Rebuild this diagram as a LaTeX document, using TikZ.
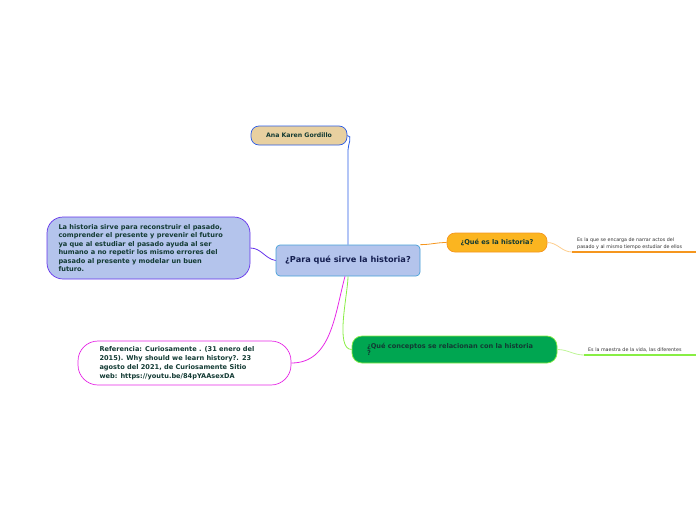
\documentclass[tikz,border=0pt]{standalone}
\usepackage{fontspec}
\setmainfont{DejaVu Sans}
\begin{document}
\begin{tikzpicture}[x=1pt,y=-1pt,
 box/.style={draw,line width=0.7pt,rounded corners=#1,inner sep=0pt,font=\bfseries},
 conn/.style={line width=0.8pt}]
\useasboundingbox (0,0) rectangle (696,520);
\clip (0,0) rectangle (696,520);
\definecolor{cblue}{HTML}{B4C4EC}
\definecolor{dtext}{HTML}{123A33}
\definecolor{corange}{HTML}{F5961E}
\definecolor{cgreen}{HTML}{88EE44}
% nodes
\node[box=8pt,fill={rgb,255:red,232;green,208;blue,160},draw={rgb,255:red,40;green,90;blue,230},minimum width=96pt,minimum height=19pt,font=\bfseries\fontsize{6.2}{7}\selectfont,text=dtext] (ana) at (299,135.5) {Ana Karen Gordillo};
\node[box=4pt,fill=cblue,draw={rgb,255:red,70;green,160;blue,216},minimum width=144pt,minimum height=31pt,font=\bfseries\fontsize{8.2}{9}\selectfont,text={rgb,255:red,20;green,30;blue,80}] (c) at (348,260.5) {¿Para qué sirve la historia?};
\node[box=16pt,fill=cblue,draw={rgb,255:red,100;green,50;blue,235},minimum width=203pt,minimum height=62pt,font=\bfseries\fontsize{6.6}{8.4}\selectfont,text=dtext,align=left] (l) at (148.5,248) {\parbox{180pt}{La historia sirve para reconstruir el pasado,\\comprender el presente y prevenir el futuro\\ya que al estudiar el pasado ayuda al ser\\humano a no repetir los mismo errores del\\pasado al presente y modelar un buen\\futuro.}};
\node[box=20pt,fill=white,draw={rgb,255:red,230;green,40;blue,230},minimum width=213pt,minimum height=44pt,font=\bfseries\fontsize{6.6}{8.9}\selectfont,text=dtext,align=left] (r) at (184.5,363) {\parbox{170pt}{Referencia: Curiosamente . (31 enero del\\2015). Why should we learn history?. 23\\agosto del 2021, de Curiosamente Sitio\\web: https://youtu.be/84pYAAsexDA}};
\node[box=8pt,fill={rgb,255:red,251;green,181;blue,32},draw=corange,minimum width=100pt,minimum height=19pt,font=\bfseries\fontsize{6.6}{7}\selectfont,text=dtext] (q) at (497,242.5) {¿Qué es la historia?};
\node[box=10pt,fill={rgb,255:red,0;green,166;blue,81},draw=cgreen,minimum width=205pt,minimum height=27pt,font=\bfseries\fontsize{6.6}{6.8}\selectfont,text=dtext,align=left] (k) at (454.5,349.5) {\parbox{175pt}{¿Qué conceptos se relacionan con la historia\\?}};
\coordinate (qe) at (572,252);
\coordinate (ke) at (584,355);
\node[anchor=south west,inner sep=1pt,font=\fontsize{4.8}{7}\selectfont,align=left,text={rgb,255:red,50;green,50;blue,50}] (qt) at (576,250.5) {Es la que se encarga de narrar actos del\\pasado y al mismo tiempo estudiar de ellos};
\node[anchor=south west,inner sep=1pt,font=\fontsize{4.8}{7}\selectfont,text={rgb,255:red,50;green,50;blue,50}] (kt) at (587,353.5) {Es la maestra de la vida, las diferentes};
% connectors
\draw[conn,draw={rgb,255:red,40;green,90;blue,230}] (ana.east) to[out=0,in=90] (348,150) -- (c.north);
\draw[conn,draw={rgb,255:red,100;green,50;blue,235}] (l.east) to[out=0,in=170] (c.west);
\draw[conn,draw=corange] (c.north east) to[out=0,in=180] (q.west);
\draw[conn,draw=cgreen] (c.south) to[out=-90,in=180,looseness=0.6] (k.west);
\draw[conn,draw={rgb,255:red,230;green,40;blue,230}] ([xshift=-3pt]c.south) to[out=-105,in=0] (r.east);
\draw[conn,draw={rgb,255:red,253;green,205;blue,140}] (q.east) to[out=0,in=180] (qe);
\draw[line width=1.3pt,draw=corange] (qe) -- (700,252);
\draw[conn,draw={rgb,255:red,190;green,245;blue,150}] (k.east) to[out=0,in=180] (ke);
\draw[line width=1.3pt,draw=cgreen] (ke) -- (700,355);
\end{tikzpicture}
\end{document}
